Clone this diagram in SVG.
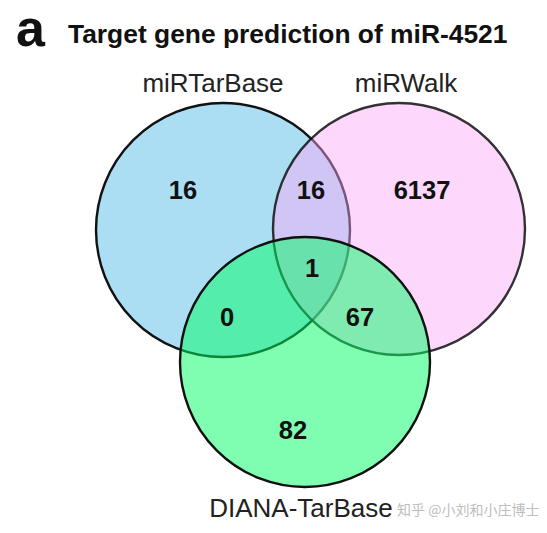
<svg xmlns="http://www.w3.org/2000/svg" width="547" height="533" viewBox="0 0 547 533">
<style>
.lbl{font-family:"Liberation Sans",Arial,sans-serif;font-size:26px;fill:#222;text-anchor:middle}
.num{font-family:"Liberation Sans",Arial,sans-serif;font-size:25.5px;font-weight:bold;fill:#111;text-anchor:middle}
.ttl{font-family:"Liberation Sans",Arial,sans-serif;font-weight:bold;fill:#111}
.c{stroke:#111;stroke-width:2.4}
.wm{font-family:"Noto Sans CJK SC","Liberation Sans",sans-serif;font-size:14px;fill:#bdbdbd}
</style>
<rect width="547" height="533" fill="#fff"/>
<text class="ttl" x="16" y="46" font-size="52">a</text>
<text class="ttl" x="68" y="43" font-size="26.4">Target gene prediction of miR-4521</text>
<g id="sets">
<g id="miRTarBase"><circle class="c" cx="223" cy="230" r="127" fill="#ABDDF3"/></g>
<g id="miRWalk"><circle class="c" cx="399" cy="229" r="126" fill="#FCA8F8" fill-opacity="0.45" stroke-opacity="0.85"/></g>
<g id="DIANA-TarBase"><circle class="c" cx="305" cy="362" r="125" fill="#00FD63" fill-opacity="0.5"/></g>
</g>
<g id="connectors"></g>
<g id="labels">
<text class="lbl" x="213" y="92">miRTarBase</text>
<text class="lbl" x="406" y="92">miRWalk</text>
<text class="lbl" x="301" y="517">DIANA-TarBase</text>
</g>
<g id="counts">
<text class="num" x="183" y="199">16</text>
<text class="num" x="311" y="199">16</text>
<text class="num" x="422" y="199">6137</text>
<text class="num" x="312" y="277">1</text>
<text class="num" x="227" y="326">0</text>
<text class="num" x="360" y="326">67</text>
<text class="num" x="293" y="439">82</text>
</g>
<text class="wm" x="397" y="515">知乎 @小刘和小庄博士</text>
</svg>
